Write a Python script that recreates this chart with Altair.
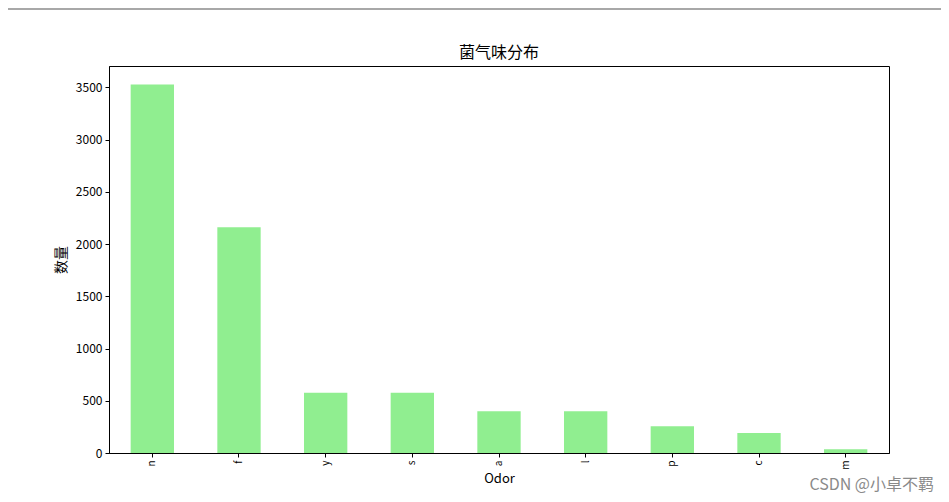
import altair as alt
import pandas as pd

odor = ["n", "f", "y", "s", "a", "l", "p", "c", "m"]
counts = [3528, 2160, 576, 576, 400, 400, 256, 192, 36]
title_text = ["菌气味分布"]
mark_text = ["CSDN @小卓不羁"]

df = pd.DataFrame({"Odor": odor, "count": counts})

FONT = "Noto Sans CJK SC"

bars = alt.Chart(df).mark_bar(color="#90EE90").encode(
    x=alt.X("Odor:N", sort=odor,
            scale=alt.Scale(paddingInner=0.5, paddingOuter=0.25),
            axis=alt.Axis(title="Odor", labelAngle=270, labelFontSize=10,
                          titleFontSize=13, titleFontWeight="normal",
                          labelColor="black", titleColor="black",
                          domainColor="black", tickColor="black",
                          tickSize=4, labelPadding=3, titlePadding=3,
                          labelFont=FONT, titleFont=FONT)),
    y=alt.Y("count:Q", scale=alt.Scale(domain=[0, 3704.4], nice=False),
            axis=alt.Axis(title="数量", values=[0, 500, 1000, 1500, 2000, 2500, 3000, 3500],
                          format="d",
                          grid=False, labelFontSize=12, titleFontSize=14,
                          titleFontWeight="normal", labelColor="black",
                          titleColor="black", domainColor="black",
                          tickColor="black", tickSize=4, labelPadding=3,
                          titlePadding=7, labelFont=FONT, titleFont=FONT)),
)

title = alt.Chart(pd.DataFrame({"t": title_text})).mark_text(
    align="center", baseline="alphabetic", fontSize=16, color="black", font=FONT
).encode(text="t:N", x=alt.value(390), y=alt.value(-8))

watermark = alt.Chart(pd.DataFrame({"t": mark_text})).mark_text(
    align="right", baseline="middle", fontSize=16, color="#8a8a8a", font=FONT
).encode(text="t:N", x=alt.value(825), y=alt.value(419))

topline = alt.Chart(pd.DataFrame({"a": [0]})).mark_rule(
    color="#a8a8a8", strokeWidth=2
).encode(x=alt.value(-101), x2=alt.value(850), y=alt.value(-57))

chart = alt.layer(bars, title, watermark, topline).properties(
    width=780, height=387,
    background="white",
    autosize=alt.AutoSizeParams(type="none"),
    padding={"left": 101, "top": 58, "right": 52, "bottom": 48},
).configure_view(stroke="black", strokeWidth=1)

chart.save("out.html", embed_options={"renderer": "svg", "actions": False})
